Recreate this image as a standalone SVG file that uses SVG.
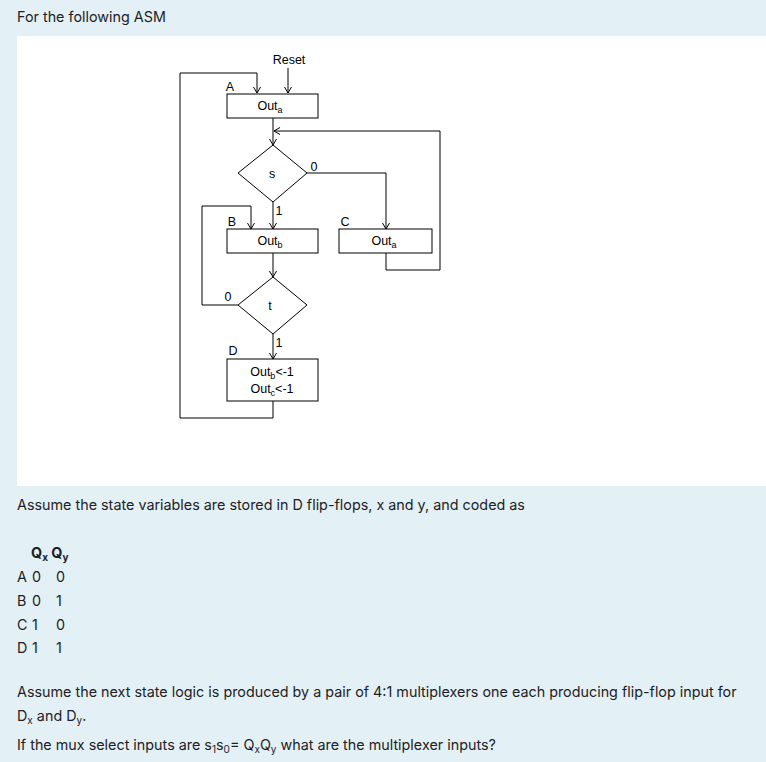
<svg xmlns="http://www.w3.org/2000/svg" width="766" height="762" viewBox="0 0 766 762">
<defs>
<marker id="ah" markerWidth="10" markerHeight="10" refX="8" refY="5" orient="auto" markerUnits="userSpaceOnUse">
<path d="M2,1.5 L8,5 L2,8.5" fill="none" stroke="#000" stroke-width="1"/>
</marker>
<style>
.page{font-family:Inter,"Noto Sans","Liberation Sans",sans-serif;font-size:14.35px;fill:#1d2125}
.d{font-family:"Liberation Sans",Arial,sans-serif;font-size:12.5px;fill:#000}
.box{fill:#fff;stroke:#000;stroke-width:1}
.ln{fill:none;stroke:#000;stroke-width:1}
.sub{font-size:9px}
</style>
</defs>
<rect width="766" height="762" fill="#e3f1f6"/>
<rect x="17" y="36" width="749" height="450" fill="#fff"/>
<text class="page" x="17" y="22">For the following ASM</text>

<g id="connectors">
<path class="ln" d="M288,68 V93" marker-end="url(#ah)"/>
<path class="ln" d="M273,401 V418 H180 V73 H257 V93" marker-end="url(#ah)"/>
<path class="ln" d="M273,118 V145" marker-end="url(#ah)"/>
<path class="ln" d="M386,253 V270 H440 V131 H274" marker-end="url(#ah)"/>
<path class="ln" d="M307,173 H386 V229" marker-end="url(#ah)"/>
<path class="ln" d="M273,202 V229" marker-end="url(#ah)"/>
<path class="ln" d="M238,305 H202 V206 H251 V229" marker-end="url(#ah)"/>
<path class="ln" d="M273,253 V277" marker-end="url(#ah)"/>
<path class="ln" d="M273,334 V359" marker-end="url(#ah)"/>
<text class="d" x="289" y="64" text-anchor="middle">Reset</text>
<text class="d" x="314" y="171" text-anchor="middle">0</text>
<text class="d" x="279" y="215" text-anchor="middle">1</text>
<text class="d" x="228" y="301" text-anchor="middle">0</text>
<text class="d" x="279" y="347" text-anchor="middle">1</text>
</g>

<g id="stateA">
<text class="d" x="230" y="91" text-anchor="middle">A</text>
<rect class="box" x="227" y="94" width="91" height="24"/>
<text class="d" x="270" y="110" text-anchor="middle">Out<tspan class="sub" dy="3">a</tspan></text>
</g>
<g id="decisionS">
<polygon class="box" points="273,145 307,173 273,202 238,173"/>
<text class="d" x="272" y="178" text-anchor="middle">s</text>
</g>
<g id="stateB">
<text class="d" x="232" y="226" text-anchor="middle">B</text>
<rect class="box" x="227" y="229" width="91" height="24"/>
<text class="d" x="270" y="245" text-anchor="middle">Out<tspan class="sub" dy="3">b</tspan></text>
</g>
<g id="stateC">
<text class="d" x="345" y="226" text-anchor="middle">C</text>
<rect class="box" x="339" y="229" width="93" height="24"/>
<text class="d" x="384" y="245" text-anchor="middle">Out<tspan class="sub" dy="3">a</tspan></text>
</g>
<g id="decisionT">
<polygon class="box" points="273,277 307,305 273,334 238,305"/>
<text class="d" x="270" y="310" text-anchor="middle">t</text>
</g>
<g id="stateD">
<text class="d" x="233" y="355" text-anchor="middle">D</text>
<rect class="box" x="227" y="359" width="91" height="42"/>
<text class="d" x="272" y="376" text-anchor="middle">Out<tspan class="sub" dy="3">b</tspan><tspan dy="-3">&lt;-1</tspan></text>
<text class="d" x="272" y="393" text-anchor="middle">Out<tspan class="sub" dy="3">c</tspan><tspan dy="-3">&lt;-1</tspan></text>
</g>

<text class="page" x="17" y="510">Assume the state variables are stored in D flip-flops, x and y, and coded as</text>
<text class="page" x="31" y="558" font-weight="bold">Q<tspan font-size="10" dy="3">x</tspan><tspan dy="-3"> Q</tspan><tspan font-size="10" dy="3">y</tspan></text>
<text class="page" x="17" y="582">A</text><text class="page" x="32" y="582">0</text><text class="page" x="56" y="582">0</text>
<text class="page" x="17" y="606">B</text><text class="page" x="32" y="606">0</text><text class="page" x="56" y="606">1</text>
<text class="page" x="17" y="630">C</text><text class="page" x="32" y="630">1</text><text class="page" x="56" y="630">0</text>
<text class="page" x="17" y="653">D</text><text class="page" x="32" y="653">1</text><text class="page" x="56" y="653">1</text>
<text class="page" x="17" y="697">Assume the next state logic is produced by a pair of 4:1 multiplexers one each producing flip-flop input for</text>
<text class="page" x="17" y="721">D<tspan font-size="10" dy="3">x</tspan><tspan dy="-3"> and D</tspan><tspan font-size="10" dy="3">y</tspan><tspan dy="-3">.</tspan></text>
<text class="page" x="17" y="750">If the mux select inputs are s<tspan font-size="10" dy="3">1</tspan><tspan dy="-3">s</tspan><tspan font-size="10" dy="3">0</tspan><tspan dy="-3">= Q</tspan><tspan font-size="10" dy="3">x</tspan><tspan dy="-3">Q</tspan><tspan font-size="10" dy="3">y</tspan><tspan dy="-3"> what are the multiplexer inputs?</tspan></text>
</svg>
